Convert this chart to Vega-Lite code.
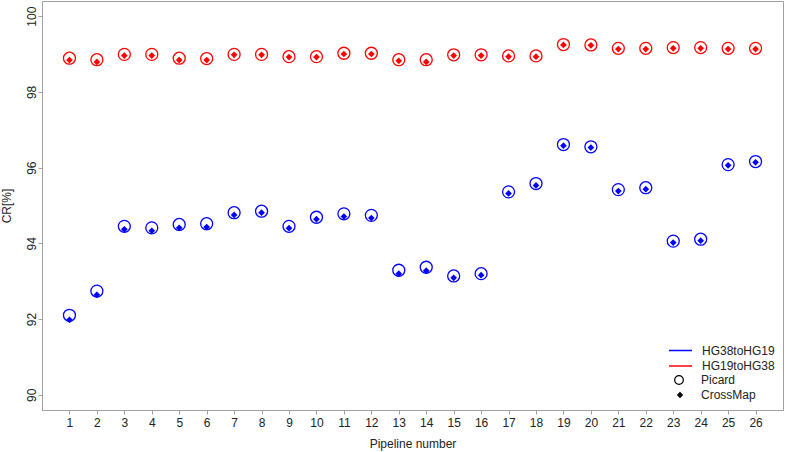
{
  "$schema": "https://vega.github.io/schema/vega-lite/v6.json",
  "width": 741,
  "height": 409,
  "autosize": {"type": "none"},
  "padding": {"left": 42, "top": 1, "right": 2, "bottom": 42},
  "background": "white",
  "config": {
    "font": "Liberation Sans",
    "view": {"stroke": "#a0a0a0", "strokeWidth": 1},
    "axis": {
      "domainColor": "#a0a0a0",
      "tickColor": "#a0a0a0",
      "tickSize": 4,
      "grid": false,
      "labelFont": "Liberation Sans",
      "labelFontSize": 12,
      "labelColor": "#222222",
      "titleFont": "Liberation Sans",
      "titleFontSize": 12,
      "titleFontWeight": "normal",
      "titleColor": "#222222"
    },
    "legend": {
      "labelFont": "Liberation Sans",
      "labelFontSize": 12,
      "labelColor": "#222222",
      "title": null,
      "padding": 0
    }
  },
  "data": {
    "values": [
      {"pipeline": 1, "direction": "HG38toHG19", "tool": "Picard", "cr": 92.10},
      {"pipeline": 2, "direction": "HG38toHG19", "tool": "Picard", "cr": 92.74},
      {"pipeline": 3, "direction": "HG38toHG19", "tool": "Picard", "cr": 94.45},
      {"pipeline": 4, "direction": "HG38toHG19", "tool": "Picard", "cr": 94.41},
      {"pipeline": 5, "direction": "HG38toHG19", "tool": "Picard", "cr": 94.50},
      {"pipeline": 6, "direction": "HG38toHG19", "tool": "Picard", "cr": 94.52},
      {"pipeline": 7, "direction": "HG38toHG19", "tool": "Picard", "cr": 94.81},
      {"pipeline": 8, "direction": "HG38toHG19", "tool": "Picard", "cr": 94.85},
      {"pipeline": 9, "direction": "HG38toHG19", "tool": "Picard", "cr": 94.45},
      {"pipeline": 10, "direction": "HG38toHG19", "tool": "Picard", "cr": 94.69},
      {"pipeline": 11, "direction": "HG38toHG19", "tool": "Picard", "cr": 94.78},
      {"pipeline": 12, "direction": "HG38toHG19", "tool": "Picard", "cr": 94.74},
      {"pipeline": 13, "direction": "HG38toHG19", "tool": "Picard", "cr": 93.29},
      {"pipeline": 14, "direction": "HG38toHG19", "tool": "Picard", "cr": 93.37},
      {"pipeline": 15, "direction": "HG38toHG19", "tool": "Picard", "cr": 93.14},
      {"pipeline": 16, "direction": "HG38toHG19", "tool": "Picard", "cr": 93.20},
      {"pipeline": 17, "direction": "HG38toHG19", "tool": "Picard", "cr": 95.36},
      {"pipeline": 18, "direction": "HG38toHG19", "tool": "Picard", "cr": 95.58},
      {"pipeline": 19, "direction": "HG38toHG19", "tool": "Picard", "cr": 96.61},
      {"pipeline": 20, "direction": "HG38toHG19", "tool": "Picard", "cr": 96.55},
      {"pipeline": 21, "direction": "HG38toHG19", "tool": "Picard", "cr": 95.42},
      {"pipeline": 22, "direction": "HG38toHG19", "tool": "Picard", "cr": 95.47},
      {"pipeline": 23, "direction": "HG38toHG19", "tool": "Picard", "cr": 94.06},
      {"pipeline": 24, "direction": "HG38toHG19", "tool": "Picard", "cr": 94.11},
      {"pipeline": 25, "direction": "HG38toHG19", "tool": "Picard", "cr": 96.08},
      {"pipeline": 26, "direction": "HG38toHG19", "tool": "Picard", "cr": 96.16},
      {"pipeline": 1, "direction": "HG38toHG19", "tool": "CrossMap", "cr": 91.98},
      {"pipeline": 2, "direction": "HG38toHG19", "tool": "CrossMap", "cr": 92.64},
      {"pipeline": 3, "direction": "HG38toHG19", "tool": "CrossMap", "cr": 94.37},
      {"pipeline": 4, "direction": "HG38toHG19", "tool": "CrossMap", "cr": 94.33},
      {"pipeline": 5, "direction": "HG38toHG19", "tool": "CrossMap", "cr": 94.41},
      {"pipeline": 6, "direction": "HG38toHG19", "tool": "CrossMap", "cr": 94.43},
      {"pipeline": 7, "direction": "HG38toHG19", "tool": "CrossMap", "cr": 94.75},
      {"pipeline": 8, "direction": "HG38toHG19", "tool": "CrossMap", "cr": 94.81},
      {"pipeline": 9, "direction": "HG38toHG19", "tool": "CrossMap", "cr": 94.40},
      {"pipeline": 10, "direction": "HG38toHG19", "tool": "CrossMap", "cr": 94.64},
      {"pipeline": 11, "direction": "HG38toHG19", "tool": "CrossMap", "cr": 94.71},
      {"pipeline": 12, "direction": "HG38toHG19", "tool": "CrossMap", "cr": 94.67},
      {"pipeline": 13, "direction": "HG38toHG19", "tool": "CrossMap", "cr": 93.20},
      {"pipeline": 14, "direction": "HG38toHG19", "tool": "CrossMap", "cr": 93.28},
      {"pipeline": 15, "direction": "HG38toHG19", "tool": "CrossMap", "cr": 93.09},
      {"pipeline": 16, "direction": "HG38toHG19", "tool": "CrossMap", "cr": 93.16},
      {"pipeline": 17, "direction": "HG38toHG19", "tool": "CrossMap", "cr": 95.32},
      {"pipeline": 18, "direction": "HG38toHG19", "tool": "CrossMap", "cr": 95.53},
      {"pipeline": 19, "direction": "HG38toHG19", "tool": "CrossMap", "cr": 96.58},
      {"pipeline": 20, "direction": "HG38toHG19", "tool": "CrossMap", "cr": 96.53},
      {"pipeline": 21, "direction": "HG38toHG19", "tool": "CrossMap", "cr": 95.38},
      {"pipeline": 22, "direction": "HG38toHG19", "tool": "CrossMap", "cr": 95.43},
      {"pipeline": 23, "direction": "HG38toHG19", "tool": "CrossMap", "cr": 94.02},
      {"pipeline": 24, "direction": "HG38toHG19", "tool": "CrossMap", "cr": 94.07},
      {"pipeline": 25, "direction": "HG38toHG19", "tool": "CrossMap", "cr": 96.06},
      {"pipeline": 26, "direction": "HG38toHG19", "tool": "CrossMap", "cr": 96.14},
      {"pipeline": 1, "direction": "HG19toHG38", "tool": "Picard", "cr": 98.89},
      {"pipeline": 2, "direction": "HG19toHG38", "tool": "Picard", "cr": 98.85},
      {"pipeline": 3, "direction": "HG19toHG38", "tool": "Picard", "cr": 98.99},
      {"pipeline": 4, "direction": "HG19toHG38", "tool": "Picard", "cr": 98.99},
      {"pipeline": 5, "direction": "HG19toHG38", "tool": "Picard", "cr": 98.89},
      {"pipeline": 6, "direction": "HG19toHG38", "tool": "Picard", "cr": 98.88},
      {"pipeline": 7, "direction": "HG19toHG38", "tool": "Picard", "cr": 98.99},
      {"pipeline": 8, "direction": "HG19toHG38", "tool": "Picard", "cr": 98.99},
      {"pipeline": 9, "direction": "HG19toHG38", "tool": "Picard", "cr": 98.93},
      {"pipeline": 10, "direction": "HG19toHG38", "tool": "Picard", "cr": 98.93},
      {"pipeline": 11, "direction": "HG19toHG38", "tool": "Picard", "cr": 99.02},
      {"pipeline": 12, "direction": "HG19toHG38", "tool": "Picard", "cr": 99.02},
      {"pipeline": 13, "direction": "HG19toHG38", "tool": "Picard", "cr": 98.85},
      {"pipeline": 14, "direction": "HG19toHG38", "tool": "Picard", "cr": 98.85},
      {"pipeline": 15, "direction": "HG19toHG38", "tool": "Picard", "cr": 98.98},
      {"pipeline": 16, "direction": "HG19toHG38", "tool": "Picard", "cr": 98.98},
      {"pipeline": 17, "direction": "HG19toHG38", "tool": "Picard", "cr": 98.95},
      {"pipeline": 18, "direction": "HG19toHG38", "tool": "Picard", "cr": 98.95},
      {"pipeline": 19, "direction": "HG19toHG38", "tool": "Picard", "cr": 99.25},
      {"pipeline": 20, "direction": "HG19toHG38", "tool": "Picard", "cr": 99.24},
      {"pipeline": 21, "direction": "HG19toHG38", "tool": "Picard", "cr": 99.15},
      {"pipeline": 22, "direction": "HG19toHG38", "tool": "Picard", "cr": 99.15},
      {"pipeline": 23, "direction": "HG19toHG38", "tool": "Picard", "cr": 99.17},
      {"pipeline": 24, "direction": "HG19toHG38", "tool": "Picard", "cr": 99.17},
      {"pipeline": 25, "direction": "HG19toHG38", "tool": "Picard", "cr": 99.15},
      {"pipeline": 26, "direction": "HG19toHG38", "tool": "Picard", "cr": 99.15},
      {"pipeline": 1, "direction": "HG19toHG38", "tool": "CrossMap", "cr": 98.84},
      {"pipeline": 2, "direction": "HG19toHG38", "tool": "CrossMap", "cr": 98.79},
      {"pipeline": 3, "direction": "HG19toHG38", "tool": "CrossMap", "cr": 98.96},
      {"pipeline": 4, "direction": "HG19toHG38", "tool": "CrossMap", "cr": 98.96},
      {"pipeline": 5, "direction": "HG19toHG38", "tool": "CrossMap", "cr": 98.84},
      {"pipeline": 6, "direction": "HG19toHG38", "tool": "CrossMap", "cr": 98.84},
      {"pipeline": 7, "direction": "HG19toHG38", "tool": "CrossMap", "cr": 98.98},
      {"pipeline": 8, "direction": "HG19toHG38", "tool": "CrossMap", "cr": 98.98},
      {"pipeline": 9, "direction": "HG19toHG38", "tool": "CrossMap", "cr": 98.92},
      {"pipeline": 10, "direction": "HG19toHG38", "tool": "CrossMap", "cr": 98.92},
      {"pipeline": 11, "direction": "HG19toHG38", "tool": "CrossMap", "cr": 99.00},
      {"pipeline": 12, "direction": "HG19toHG38", "tool": "CrossMap", "cr": 99.00},
      {"pipeline": 13, "direction": "HG19toHG38", "tool": "CrossMap", "cr": 98.82},
      {"pipeline": 14, "direction": "HG19toHG38", "tool": "CrossMap", "cr": 98.79},
      {"pipeline": 15, "direction": "HG19toHG38", "tool": "CrossMap", "cr": 98.96},
      {"pipeline": 16, "direction": "HG19toHG38", "tool": "CrossMap", "cr": 98.96},
      {"pipeline": 17, "direction": "HG19toHG38", "tool": "CrossMap", "cr": 98.93},
      {"pipeline": 18, "direction": "HG19toHG38", "tool": "CrossMap", "cr": 98.93},
      {"pipeline": 19, "direction": "HG19toHG38", "tool": "CrossMap", "cr": 99.24},
      {"pipeline": 20, "direction": "HG19toHG38", "tool": "CrossMap", "cr": 99.23},
      {"pipeline": 21, "direction": "HG19toHG38", "tool": "CrossMap", "cr": 99.13},
      {"pipeline": 22, "direction": "HG19toHG38", "tool": "CrossMap", "cr": 99.13},
      {"pipeline": 23, "direction": "HG19toHG38", "tool": "CrossMap", "cr": 99.15},
      {"pipeline": 24, "direction": "HG19toHG38", "tool": "CrossMap", "cr": 99.15},
      {"pipeline": 25, "direction": "HG19toHG38", "tool": "CrossMap", "cr": 99.13},
      {"pipeline": 26, "direction": "HG19toHG38", "tool": "CrossMap", "cr": 99.13}
    ]
  },
  "encoding": {
    "x": {
      "field": "pipeline",
      "type": "quantitative",
      "scale": {"domain": [0, 27], "nice": false, "zero": false},
      "axis": {
        "title": "Pipeline number",
        "values": [1, 2, 3, 4, 5, 6, 7, 8, 9, 10, 11, 12, 13, 14, 15, 16, 17, 18, 19, 20, 21, 22, 23, 24, 25, 26],
        "labelPadding": 3,
        "titlePadding": 10,
        "labelFlush": false,
        "labelOverlap": false
      }
    },
    "y": {
      "field": "cr",
      "type": "quantitative",
      "scale": {"domain": [89.6, 100.4], "nice": false, "zero": false},
      "axis": {
        "title": "CR[%]",
        "values": [90, 92, 94, 96, 98, 100],
        "labelAngle": 270,
        "labelAlign": "center",
        "labelBaseline": "bottom",
        "labelPadding": 0,
        "titlePadding": 12,
        "labelFlush": false
      }
    },
    "color": {
      "field": "direction",
      "type": "nominal",
      "scale": {"domain": ["HG38toHG19", "HG19toHG38"], "range": ["#0000ff", "#ff0000"]},
      "legend": {
        "orient": "none",
        "legendX": 632,
        "legendY": 343,
        "symbolType": "M-2,0H2",
        "symbolSize": 132,
        "symbolStrokeWidth": 1.5,
        "rowPadding": 2.5,
        "labelOffset": 15
      }
    }
  },
  "layer": [
    {
      "transform": [{"filter": "datum.tool === 'Picard'"}],
      "mark": {"type": "point", "filled": false, "size": 144, "strokeWidth": 1.3, "opacity": 1},
      "encoding": {
        "shape": {
          "field": "tool",
          "type": "nominal",
          "scale": {"domain": ["Picard"], "range": ["circle"]},
          "legend": {
            "orient": "none",
            "legendX": 631,
            "legendY": 373,
            "symbolSize": 75,
            "symbolStrokeColor": "black",
            "symbolFillColor": "transparent",
            "symbolStrokeWidth": 1.2,
            "labelOffset": 16
          }
        }
      }
    },
    {
      "transform": [{"filter": "datum.tool === 'CrossMap'"}],
      "mark": {"type": "point", "filled": true, "size": 45, "opacity": 1},
      "encoding": {
        "shape": {
          "field": "tool",
          "type": "nominal",
          "scale": {"domain": ["CrossMap"], "range": ["M0,-1L1,0L0,1L-1,0Z"]},
          "legend": {
            "orient": "none",
            "legendX": 632,
            "legendY": 388,
            "symbolSize": 40,
            "symbolFillColor": "black",
            "symbolStrokeColor": "transparent",
            "symbolStrokeWidth": 0,
            "labelOffset": 15
          }
        }
      }
    }
  ],
  "resolve": {"scale": {"shape": "independent"}, "legend": {"shape": "independent"}}
}
